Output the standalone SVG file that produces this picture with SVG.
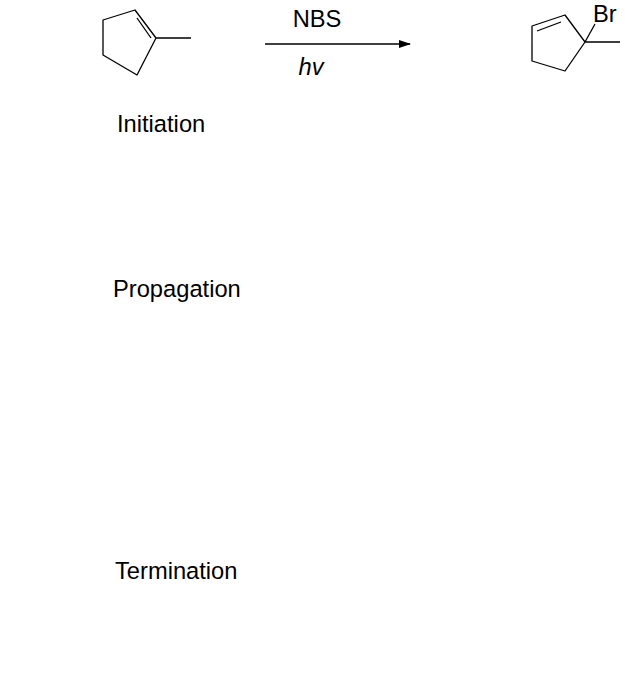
<svg xmlns="http://www.w3.org/2000/svg" width="625" height="674" viewBox="0 0 625 674">
<style>
.b{stroke:#000;stroke-width:1.3;fill:none;stroke-linejoin:round}
.t{font-family:"Liberation Sans",Arial,sans-serif;font-size:23.7px;fill:#000}
</style>
<defs><marker id="ah" markerWidth="12" markerHeight="8" refX="11" refY="4" orient="auto" markerUnits="userSpaceOnUse"><path d="M0,0 L12,4 L0,8 Z" fill="#000"/></marker></defs>
<rect width="625" height="674" fill="#fff"/>
<g id="reactant">
<path class="b" d="M135,10 L156,38 L137,75 L103,55 L103,20 Z M156,38 L191,38 M137,18 L151,38"/>
</g>
<g id="product">
<path class="b" d="M565,15 L585,42 L565,71 L532,61 L532,26 Z M585,42 L620,42 M585,42 L595,24 M537,31 L561,22"/>
<text class="t" x="593" y="22" font-size="19">Br</text>
</g>
<g id="connectors">
<line class="b" x1="265" y1="44" x2="410" y2="44" marker-end="url(#ah)"/>
</g>
<text class="t" x="317" y="27" text-anchor="middle" font-size="20">NBS</text>
<text class="t" x="311" y="75" text-anchor="middle" font-size="19" font-style="italic">hv</text>
<text class="t" x="117" y="132">Initiation</text>
<text class="t" x="113" y="297">Propagation</text>
<text class="t" x="115" y="579">Termination</text>
</svg>
